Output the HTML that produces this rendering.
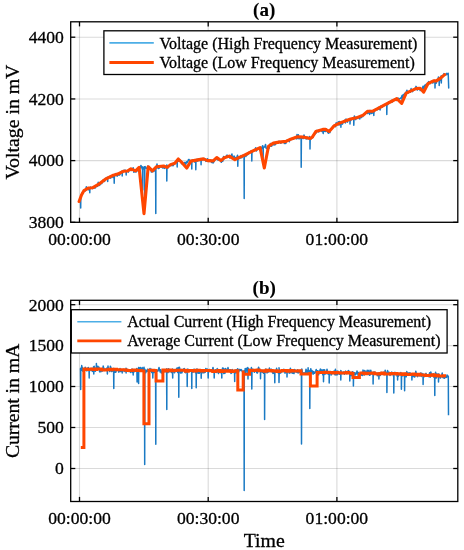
<!DOCTYPE html>
<html><head><meta charset="utf-8"><title>Voltage and Current</title>
<style>
html,body{margin:0;padding:0;background:#fff;width:464px;height:550px;overflow:hidden}
svg{display:block}
text{font-family:"Liberation Serif","Times New Roman",serif;fill:#000;stroke:#000;stroke-width:0.3px}
.tk{font-size:17.6px}
.lg{font-size:16px}
.lb{font-size:19.8px}
.tt{font-size:19px;font-weight:bold;stroke-width:0.1px}
</style></head><body>
<svg width="464" height="550" viewBox="0 0 464 550">
<defs><clipPath id="c1"><rect x="70.7" y="21.8" width="387.1" height="200.5"/></clipPath>
<clipPath id="c2"><rect x="70.7" y="300.3" width="387.1" height="201.2"/></clipPath></defs>
<rect width="464" height="550" fill="#fff"/>
<line x1="79.5" y1="21.8" x2="79.5" y2="222.35" stroke="#262626" stroke-opacity="0.17" stroke-width="1.1"/>
<line x1="208.2" y1="21.8" x2="208.2" y2="222.35" stroke="#262626" stroke-opacity="0.17" stroke-width="1.1"/>
<line x1="336.9" y1="21.8" x2="336.9" y2="222.35" stroke="#262626" stroke-opacity="0.17" stroke-width="1.1"/>
<line x1="70.7" y1="37.2" x2="457.8" y2="37.2" stroke="#262626" stroke-opacity="0.17" stroke-width="1.1"/>
<line x1="70.7" y1="98.95" x2="457.8" y2="98.95" stroke="#262626" stroke-opacity="0.17" stroke-width="1.1"/>
<line x1="70.7" y1="160.6" x2="457.8" y2="160.6" stroke="#262626" stroke-opacity="0.17" stroke-width="1.1"/>
<line x1="70.7" y1="222.35" x2="457.8" y2="222.35" stroke="#262626" stroke-opacity="0.17" stroke-width="1.1"/>
<g clip-path="url(#c1)" fill="none" stroke-linejoin="round" stroke-linecap="round">
<polyline points="79.3,201.0 80.0,200.1 80.5,197.7 80.7,208.0 80.8,197.7 80.7,197.9 81.4,194.5 82.1,193.1 82.8,191.9 83.5,191.8 84.2,189.9 84.9,191.1 85.6,190.5 86.3,186.8 87.0,188.7 87.7,187.8 88.4,189.7 89.1,188.9 89.6,188.0 89.8,192.7 89.9,188.0 89.8,188.2 90.5,187.1 91.2,187.5 91.9,188.2 92.6,188.6 93.3,187.3 94.0,188.2 94.7,187.4 95.4,187.9 96.1,185.7 96.8,184.7 97.5,186.4 98.2,182.3 98.9,185.5 99.6,185.3 100.3,184.2 101.0,183.3 101.7,183.6 102.4,181.9 103.1,180.0 103.8,181.4 104.5,181.4 105.2,179.5 105.9,178.0 106.6,178.1 107.3,177.4 107.5,178.2 107.7,181.5 107.8,178.2 108.0,177.3 108.7,177.8 109.4,176.5 110.1,177.6 110.8,178.1 111.5,176.0 112.2,175.9 112.9,177.5 113.6,174.7 114.1,175.0 114.2,183.3 114.4,175.0 114.3,174.7 115.0,175.7 115.7,173.6 116.4,174.6 117.1,176.3 117.8,174.6 118.5,174.8 119.2,175.2 119.9,174.7 120.6,172.9 121.3,171.6 122.0,171.1 122.1,171.9 122.2,176.0 122.4,171.9 122.7,171.2 123.4,171.4 124.1,170.2 124.8,170.5 125.5,170.2 126.0,171.1 126.2,175.0 126.3,171.1 126.2,172.1 126.9,170.8 127.6,171.0 128.3,172.2 129.0,170.5 129.7,168.9 130.4,169.3 131.1,170.6 131.8,168.4 132.5,170.3 133.2,167.8 133.9,172.3 134.6,171.7 135.3,170.9 136.0,172.0 136.7,171.3 137.4,168.8 138.1,170.6 138.8,169.3 139.5,168.7 140.2,168.0 140.9,165.4 141.6,167.0 142.3,169.2 142.5,167.1 142.7,190.0 142.8,167.1 143.0,169.1 143.7,169.1 144.4,166.7 144.5,167.0 144.7,200.0 144.8,167.0 145.1,166.6 145.8,167.9 146.5,168.5 147.2,167.9 147.9,166.0 148.6,169.0 149.3,169.2 150.0,168.1 150.7,169.3 151.4,172.0 152.1,170.9 152.8,171.8 153.5,169.2 154.2,171.0 154.9,167.9 155.6,169.8 155.6,167.7 155.8,213.6 155.9,167.7 156.3,167.1 157.0,164.1 157.7,167.7 158.4,168.5 159.1,168.2 159.8,166.1 160.5,166.2 161.2,167.1 161.9,166.5 162.6,168.0 163.3,166.5 164.0,168.1 164.7,168.4 165.4,167.4 166.1,166.1 166.7,167.2 166.8,181.1 167.0,167.2 166.8,164.9 167.5,166.6 168.2,167.8 168.9,166.0 169.6,166.2 170.3,164.2 171.0,164.3 171.7,165.7 172.4,164.8 173.1,165.7 173.8,164.5 174.5,163.9 175.2,163.2 175.9,162.4 176.6,162.3 177.0,160.6 177.2,167.0 177.3,160.6 177.3,162.2 178.0,160.2 178.7,161.1 179.4,159.5 180.1,160.0 180.8,160.7 181.5,163.7 182.2,162.4 182.9,164.2 183.6,164.8 184.3,162.5 185.0,162.8 185.7,164.6 186.4,161.7 187.1,162.7 187.8,161.5 188.5,159.6 189.2,159.6 189.9,162.3 190.6,160.4 191.3,162.6 191.6,161.0 191.8,169.1 191.9,161.0 192.0,160.2 192.7,159.9 193.4,160.5 194.1,160.9 194.8,162.1 195.5,159.8 195.7,160.3 195.8,169.7 196.0,160.3 196.2,161.0 196.9,159.3 197.6,161.1 198.3,159.0 199.0,160.7 199.7,158.8 200.4,158.6 200.9,159.3 201.1,164.8 201.2,159.3 201.1,159.8 201.8,160.0 202.5,158.9 203.2,159.6 203.9,158.5 204.6,158.5 205.3,159.7 206.0,161.4 206.7,160.8 207.4,158.7 208.1,159.7 208.8,161.4 209.5,161.2 210.2,160.1 210.9,161.2 211.6,162.5 212.3,161.5 213.0,163.0 213.7,162.1 214.4,160.8 215.1,159.2 215.8,157.8 216.5,159.1 217.2,157.4 217.9,160.1 218.6,160.0 219.3,159.2 220.0,160.4 220.7,160.9 221.4,162.3 222.1,160.4 222.8,161.2 223.5,156.6 224.2,158.5 224.9,157.3 225.6,156.4 226.3,156.4 227.0,155.0 227.7,156.4 228.4,157.1 229.1,157.3 229.8,158.0 230.5,156.3 231.2,155.8 231.9,153.9 232.6,158.3 233.3,157.8 234.0,156.0 234.7,157.2 235.4,158.3 236.1,157.6 236.8,158.0 237.5,155.2 237.7,156.9 237.8,166.2 238.0,156.9 238.2,157.1 238.9,158.7 239.6,158.1 240.3,158.1 241.0,155.6 241.7,157.7 242.4,156.8 243.1,155.0 243.8,155.3 244.0,155.4 244.2,198.6 244.3,155.4 244.5,155.0 245.2,154.5 245.9,156.6 246.6,154.3 247.3,154.9 248.0,154.4 248.7,152.3 249.4,152.5 250.1,152.3 250.8,151.0 251.5,151.5 251.7,151.6 251.8,161.0 252.0,151.6 252.2,152.5 252.9,150.9 253.6,151.1 254.3,149.7 255.0,149.7 255.7,147.7 256.4,151.0 257.1,149.5 257.8,148.4 258.5,148.1 259.2,147.6 259.9,149.8 260.6,149.2 261.3,149.3 262.0,147.1 262.7,145.7 263.0,147.2 263.1,160.0 263.3,147.2 263.4,147.7 264.1,147.0 264.8,147.0 265.5,144.5 266.2,148.4 266.9,148.5 267.6,148.3 268.3,146.5 269.0,148.2 269.7,145.7 270.4,143.4 271.1,146.3 271.8,146.1 272.5,143.5 273.2,142.8 273.9,145.1 274.6,144.5 275.3,144.7 276.0,143.4 276.7,141.7 277.4,142.8 278.1,143.3 278.8,141.3 279.5,141.5 280.2,142.1 280.9,143.3 281.6,141.7 282.3,141.7 283.0,142.0 283.7,141.1 284.4,143.5 285.1,141.2 285.8,143.6 286.5,140.6 287.2,140.1 287.9,139.8 288.6,140.0 289.3,141.7 290.0,139.8 290.7,139.8 291.4,139.0 292.1,138.6 292.8,137.8 293.5,139.2 294.2,137.6 294.9,137.5 295.6,137.8 296.3,138.9 297.0,134.6 297.7,138.6 298.4,134.8 299.1,138.8 299.8,138.6 300.5,136.7 301.1,136.9 301.2,167.2 301.4,136.9 301.2,136.5 301.9,138.2 302.6,138.4 303.3,138.6 304.0,134.9 304.7,137.1 305.4,138.6 306.1,137.1 306.8,138.9 307.5,137.3 308.2,138.8 308.9,138.5 309.6,136.5 309.9,138.4 310.0,149.0 310.2,138.4 310.3,138.9 311.0,139.0 311.7,138.0 312.4,136.7 313.1,137.1 313.8,133.8 314.5,134.7 315.2,132.3 315.9,133.4 316.6,130.4 317.3,131.4 318.0,130.5 318.7,132.0 319.4,130.1 320.1,130.2 320.8,129.7 321.5,131.2 322.2,131.6 322.9,129.0 323.1,129.4 323.2,133.6 323.4,129.4 323.6,129.7 324.3,131.4 325.0,129.7 325.7,131.6 326.4,129.0 327.1,130.6 327.8,132.5 328.5,133.3 329.2,131.4 329.9,132.6 330.6,128.9 331.3,129.2 332.0,128.2 332.7,126.4 333.4,126.7 334.1,125.2 334.8,125.2 335.5,126.8 336.2,122.7 336.9,124.6 337.6,123.7 338.3,121.8 339.0,125.0 339.7,121.4 340.4,124.7 340.8,122.6 340.9,127.3 341.1,122.6 341.1,123.9 341.8,122.4 342.5,124.1 343.2,121.6 343.9,121.5 344.6,120.2 345.3,122.9 346.0,118.9 346.7,121.0 347.4,122.2 348.1,119.7 348.8,120.2 349.5,119.0 349.9,119.3 350.0,123.9 350.2,119.3 350.2,120.5 350.9,120.4 351.6,118.8 352.3,118.8 353.0,117.7 353.7,119.7 353.7,118.3 353.8,125.3 354.0,118.3 354.4,116.0 355.1,118.0 355.8,119.6 356.5,117.5 357.2,116.8 357.9,118.5 358.6,116.7 359.3,117.7 359.7,116.5 359.8,119.0 360.0,116.5 360.0,117.8 360.7,117.3 361.4,117.5 362.1,116.4 362.8,116.6 363.5,114.6 364.2,113.7 364.9,114.4 365.6,113.2 366.3,112.9 367.0,113.2 367.7,113.5 368.4,111.8 369.1,113.0 369.5,111.3 369.6,114.5 369.8,111.3 369.8,110.4 370.5,110.7 371.2,113.4 371.9,113.3 372.6,112.9 373.3,110.6 373.7,110.6 373.8,115.5 374.0,110.6 374.0,112.5 374.7,111.0 375.4,109.4 376.1,108.8 376.8,108.8 377.5,109.7 378.2,107.3 378.9,109.1 379.6,107.6 380.0,107.3 380.1,110.0 380.3,107.3 380.3,108.7 381.0,106.0 381.7,106.7 382.4,107.1 383.1,105.2 383.8,105.6 384.5,104.9 385.2,104.5 385.9,104.3 386.6,105.6 386.7,103.8 386.8,114.5 387.0,103.8 387.3,103.6 388.0,104.4 388.7,101.8 389.4,102.8 390.1,102.3 390.8,102.2 391.5,100.4 392.2,102.1 392.9,99.9 393.6,100.5 394.3,99.4 395.0,100.3 395.7,98.6 396.4,100.5 397.1,98.2 397.8,100.1 398.5,98.2 399.2,99.2 399.9,98.7 400.6,98.1 401.3,97.5 402.0,95.9 402.0,95.6 402.1,102.0 402.3,95.6 402.7,96.8 403.4,94.5 404.1,95.0 404.8,93.3 405.5,94.8 406.2,92.2 406.9,90.3 407.6,91.8 408.3,92.9 409.0,91.7 409.7,92.3 410.4,92.2 411.1,88.6 411.8,91.0 412.5,91.6 413.2,90.3 413.9,90.1 414.6,88.6 415.3,88.2 416.0,86.4 416.7,87.8 417.4,90.0 418.1,87.6 418.8,88.6 419.5,87.8 420.2,90.5 420.9,89.5 421.6,89.6 422.3,89.1 423.0,86.2 423.7,88.2 424.4,85.9 425.0,85.4 425.1,88.0 425.3,85.4 425.1,84.9 425.8,84.8 426.5,84.0 427.2,86.1 427.9,83.5 428.6,81.6 429.3,82.5 430.0,83.8 430.7,81.8 431.4,81.3 432.1,82.6 432.8,83.0 433.5,81.8 434.2,80.2 434.9,81.9 434.9,80.9 435.0,87.9 435.2,80.9 435.6,82.5 436.3,83.1 437.0,80.6 437.7,80.4 438.4,77.1 439.1,78.8 439.1,79.0 439.2,85.5 439.4,79.0 439.8,80.7 440.5,79.2 441.2,75.8 441.2,77.5 441.3,83.0 441.5,77.5 441.9,77.9 442.6,77.0 443.3,75.2 444.0,73.6 444.7,74.7 445.4,74.5 446.1,74.9 446.8,73.4 447.5,74.0 448.2,75.2 448.2,73.2 448.7,87.9" stroke="#1A7AC4" stroke-width="1.5"/>
<polyline points="79.1,201.5 81.5,195.0 84.0,190.6 88.2,188.1 92.4,187.8 98.0,184.7 105.0,179.4 113.4,175.2 117.6,174.1 123.2,171.3 127.4,171.0 130.9,168.9 135.6,170.9 139.1,167.4 144.0,213.6 148.2,166.7 152.4,170.9 156.6,166.7 163.6,166.0 167.1,167.4 170.6,164.6 174.8,163.2 178.3,159.0 182.5,163.2 186.7,168.1 190.9,161.1 195.0,160.4 203.4,158.9 207.6,160.6 213.2,160.9 216.7,157.5 220.9,160.6 224.4,157.8 229.3,156.1 234.9,159.7 239.8,157.1 244.0,155.4 252.4,151.2 260.1,147.7 264.3,168.0 268.5,146.3 273.4,143.1 279.0,142.1 286.0,141.4 290.6,139.2 297.6,136.7 303.2,137.1 310.2,138.5 312.3,137.1 315.8,131.5 322.8,129.4 325.6,129.4 329.1,131.5 334.0,125.9 339.6,123.1 345.2,121.0 350.6,119.0 357.6,117.4 363.2,115.1 367.4,111.3 372.3,111.3 378.6,108.1 385.6,104.3 391.2,101.5 396.8,98.7 401.7,103.4 406.2,93.1 410.4,91.1 416.0,88.6 420.2,88.3 423.7,92.1 427.9,83.7 433.5,80.9 436.3,80.9 440.5,78.1 444.7,74.6" stroke="#FF4600" stroke-width="3.1"/>
</g>
<rect x="70.7" y="21.8" width="387.1" height="200.5" fill="none" stroke="#000" stroke-width="1.3"/>
<line x1="79.5" y1="222.35" x2="79.5" y2="217.75" stroke="#000" stroke-width="1.3"/>
<line x1="79.5" y1="21.8" x2="79.5" y2="26.4" stroke="#000" stroke-width="1.3"/>
<line x1="208.2" y1="222.35" x2="208.2" y2="217.75" stroke="#000" stroke-width="1.3"/>
<line x1="208.2" y1="21.8" x2="208.2" y2="26.4" stroke="#000" stroke-width="1.3"/>
<line x1="336.9" y1="222.35" x2="336.9" y2="217.75" stroke="#000" stroke-width="1.3"/>
<line x1="336.9" y1="21.8" x2="336.9" y2="26.4" stroke="#000" stroke-width="1.3"/>
<line x1="70.7" y1="37.2" x2="75.3" y2="37.2" stroke="#000" stroke-width="1.3"/>
<line x1="457.8" y1="37.2" x2="453.2" y2="37.2" stroke="#000" stroke-width="1.3"/>
<line x1="70.7" y1="98.95" x2="75.3" y2="98.95" stroke="#000" stroke-width="1.3"/>
<line x1="457.8" y1="98.95" x2="453.2" y2="98.95" stroke="#000" stroke-width="1.3"/>
<line x1="70.7" y1="160.6" x2="75.3" y2="160.6" stroke="#000" stroke-width="1.3"/>
<line x1="457.8" y1="160.6" x2="453.2" y2="160.6" stroke="#000" stroke-width="1.3"/>
<line x1="70.7" y1="222.35" x2="75.3" y2="222.35" stroke="#000" stroke-width="1.3"/>
<line x1="457.8" y1="222.35" x2="453.2" y2="222.35" stroke="#000" stroke-width="1.3"/>
<text x="63.9" y="43.0" text-anchor="end" class="tk">4400</text>
<text x="63.9" y="104.8" text-anchor="end" class="tk">4200</text>
<text x="63.9" y="166.4" text-anchor="end" class="tk">4000</text>
<text x="63.9" y="228.2" text-anchor="end" class="tk">3800</text>
<text x="79.5" y="245.3" text-anchor="middle" class="tk">00:00:00</text>
<text x="208.2" y="245.3" text-anchor="middle" class="tk">00:30:00</text>
<text x="336.9" y="245.3" text-anchor="middle" class="tk">01:00:00</text>
<rect x="103.9" y="30.8" width="320.9" height="43.7" fill="#fff" stroke="#000" stroke-width="1.3"/>
<line x1="109.4" y1="42.9" x2="153.8" y2="42.9" stroke="#4DAEE6" stroke-width="1.6"/>
<line x1="109.4" y1="62.5" x2="153.8" y2="62.5" stroke="#FF4600" stroke-width="2.9"/>
<text x="159.6" y="48.5" class="lg">Voltage (High Frequency Measurement)</text>
<text x="159.6" y="68.3" class="lg">Voltage (Low Frequency Measurement)</text>
<text x="264.2" y="16.0" text-anchor="middle" class="tt">(a)</text>
<text transform="translate(19.0,122.1) rotate(-90)" text-anchor="middle" class="lb">Voltage in mV</text>
<line x1="79.5" y1="300.3" x2="79.5" y2="501.5" stroke="#262626" stroke-opacity="0.17" stroke-width="1.1"/>
<line x1="208.2" y1="300.3" x2="208.2" y2="501.5" stroke="#262626" stroke-opacity="0.17" stroke-width="1.1"/>
<line x1="336.9" y1="300.3" x2="336.9" y2="501.5" stroke="#262626" stroke-opacity="0.17" stroke-width="1.1"/>
<line x1="70.7" y1="304.7" x2="457.8" y2="304.7" stroke="#262626" stroke-opacity="0.17" stroke-width="1.1"/>
<line x1="70.7" y1="345.6" x2="457.8" y2="345.6" stroke="#262626" stroke-opacity="0.17" stroke-width="1.1"/>
<line x1="70.7" y1="386.5" x2="457.8" y2="386.5" stroke="#262626" stroke-opacity="0.17" stroke-width="1.1"/>
<line x1="70.7" y1="427.5" x2="457.8" y2="427.5" stroke="#262626" stroke-opacity="0.17" stroke-width="1.1"/>
<line x1="70.7" y1="468.5" x2="457.8" y2="468.5" stroke="#262626" stroke-opacity="0.17" stroke-width="1.1"/>
<g clip-path="url(#c2)" fill="none" stroke-linejoin="round" stroke-linecap="butt">
<polyline points="80.4,369.5 80.5,368.6 80.7,389.5 80.8,368.6 81.0,370.4 81.5,368.7 81.7,365.5 81.8,368.7 81.6,370.2 82.2,367.1 82.8,371.2 83.4,371.1 84.0,369.3 84.6,369.6 85.2,367.3 85.8,368.5 86.4,370.7 87.0,370.8 87.6,370.1 88.2,367.4 88.8,368.3 89.0,369.2 89.2,378.0 89.3,369.2 89.4,371.7 90.0,368.7 90.6,369.8 91.2,368.4 91.8,370.5 92.4,371.4 93.0,369.1 93.6,366.8 93.6,369.3 93.8,374.0 93.9,369.3 94.2,366.3 94.8,369.0 95.4,371.2 96.0,369.0 96.2,369.4 96.4,363.4 96.5,369.4 96.6,365.9 97.2,367.7 97.8,366.2 98.4,369.2 99.0,367.1 99.6,371.8 100.2,371.0 100.8,371.8 101.4,369.2 102.0,371.1 102.6,371.0 103.2,366.1 103.8,368.1 104.4,370.4 105.0,369.2 105.6,370.1 106.2,369.1 106.8,368.1 107.2,369.6 107.4,374.0 107.5,369.6 107.4,370.8 108.0,366.1 108.6,370.1 109.2,368.9 109.8,371.5 110.4,366.2 111.0,368.0 111.6,371.5 112.2,371.1 112.8,370.6 113.4,368.4 113.6,369.7 113.8,388.6 113.9,369.7 114.0,368.5 114.6,369.2 115.2,372.3 115.8,372.2 116.4,370.1 117.0,370.1 117.6,369.7 118.2,369.6 118.8,372.2 119.4,370.2 120.0,368.4 120.6,371.5 121.2,369.6 121.8,371.4 122.0,369.8 122.2,373.0 122.3,369.8 122.4,371.0 123.0,369.7 123.6,369.3 124.2,371.5 124.8,369.4 125.4,371.0 125.9,369.9 126.1,373.0 126.2,369.9 126.0,368.2 126.6,369.2 127.2,370.2 127.8,371.0 128.4,369.7 129.0,371.4 129.6,369.7 130.2,372.0 130.8,372.5 131.4,370.5 132.0,369.0 132.6,372.4 133.0,370.1 133.2,375.0 133.3,370.1 133.2,371.3 133.8,371.5 134.4,371.7 135.0,371.3 135.6,371.1 136.2,371.2 136.8,368.5 136.9,370.2 137.1,382.0 137.2,370.2 137.4,370.3 138.0,369.4 138.4,370.2 138.6,383.6 138.7,370.2 138.6,367.4 139.2,367.9 139.8,369.8 140.4,367.5 141.0,370.1 141.6,371.1 142.2,367.6 142.8,369.7 143.4,369.0 144.0,367.3 144.5,370.3 144.7,464.6 144.8,370.3 144.6,368.9 145.2,370.0 145.8,372.7 146.4,370.4 147.0,371.3 147.6,369.2 148.2,371.0 148.8,372.8 149.4,370.1 150.0,368.5 150.6,371.0 151.2,369.2 151.8,372.5 152.4,370.5 152.7,370.4 152.8,378.0 153.0,370.4 153.0,369.8 153.6,370.2 154.2,372.6 154.8,369.7 155.4,370.8 155.6,370.4 155.8,444.2 155.9,370.4 156.0,370.0 156.6,370.7 157.2,370.7 157.8,371.3 158.4,369.9 159.0,367.5 159.6,369.8 160.2,372.0 160.8,369.8 161.4,373.0 162.0,371.3 162.6,371.5 163.2,371.9 163.8,372.0 164.4,371.0 165.0,370.0 165.6,370.7 166.2,371.9 166.6,370.5 166.8,409.5 166.9,370.5 166.8,368.8 167.4,370.7 168.0,372.6 168.6,368.8 169.2,370.6 169.8,371.8 170.4,370.8 171.0,370.4 171.6,372.5 172.2,370.0 172.5,370.5 172.7,378.0 172.8,370.5 172.8,369.0 173.4,371.8 174.0,370.0 174.6,372.8 175.2,370.9 175.8,370.9 176.4,369.4 177.0,368.1 177.6,372.4 178.2,367.5 178.6,370.6 178.8,397.2 178.9,370.6 178.8,373.1 179.4,367.3 180.0,369.8 180.6,373.0 181.2,369.4 181.8,372.9 182.4,371.5 183.0,369.5 183.6,369.0 184.2,368.5 184.8,371.4 185.4,372.7 186.0,370.8 186.6,371.5 187.1,370.7 187.2,386.4 187.4,370.7 187.2,373.0 187.8,369.1 188.4,369.5 189.0,371.1 189.6,371.3 190.2,370.1 190.8,370.0 191.4,371.2 191.6,370.7 191.8,388.4 191.9,370.7 192.0,370.0 192.6,372.2 193.2,372.1 193.8,369.3 194.4,369.3 195.0,371.6 195.6,372.8 196.1,370.8 196.2,387.7 196.4,370.8 196.2,370.4 196.8,369.1 197.4,369.2 198.0,373.2 198.6,370.0 199.2,373.3 199.8,372.6 200.4,371.8 201.0,370.0 201.1,370.8 201.2,378.2 201.4,370.8 201.6,371.7 202.2,370.7 202.8,372.7 203.4,372.6 204.0,372.8 204.6,371.7 205.2,372.3 205.8,368.5 206.4,369.2 207.0,371.2 207.6,369.1 208.0,370.9 208.2,378.0 208.3,370.9 208.2,373.0 208.8,371.0 209.4,369.5 210.0,369.8 210.6,370.8 211.2,369.8 211.8,370.3 212.4,370.4 213.0,367.5 213.6,370.8 214.1,371.0 214.2,378.0 214.4,371.0 214.2,372.2 214.8,371.2 215.4,369.7 216.0,370.5 216.6,372.4 217.2,368.6 217.8,369.5 218.4,373.5 219.0,370.6 219.6,370.5 220.2,372.4 220.8,370.3 221.4,373.4 221.6,371.0 221.8,378.0 221.9,371.0 222.0,371.1 222.6,367.9 223.2,368.2 223.8,373.6 224.4,368.9 225.0,373.2 225.6,368.6 226.2,369.5 226.8,369.6 227.4,371.1 228.0,367.6 228.6,370.1 229.2,371.1 229.8,369.7 230.4,369.8 231.0,373.4 231.6,373.1 232.2,369.4 232.8,371.5 233.4,371.0 234.0,372.6 234.5,371.2 234.7,381.5 234.8,371.2 234.6,370.7 235.2,373.0 235.8,369.9 236.4,369.8 237.0,373.0 237.6,368.7 238.2,369.7 238.8,371.8 239.4,369.5 240.0,369.4 240.6,370.5 241.2,369.6 241.8,370.5 242.4,371.6 243.0,372.0 243.6,371.6 244.0,370.8 244.2,490.5 244.3,370.8 244.2,372.6 244.8,373.2 245.0,370.8 245.2,368.5 245.3,370.8 245.4,372.0 246.0,372.5 246.6,368.3 247.2,370.0 247.8,367.4 247.8,370.6 248.0,379.0 248.1,370.6 248.4,368.4 249.0,369.3 249.6,372.5 250.2,371.4 250.8,370.6 251.4,367.6 251.7,370.5 251.8,388.9 252.0,370.5 252.0,372.4 252.6,369.2 253.2,369.5 253.8,370.7 254.4,372.3 255.0,370.2 255.6,370.8 256.2,370.7 256.8,372.9 257.4,373.1 258.0,369.3 258.6,367.2 259.2,369.0 259.8,371.0 260.4,370.6 260.4,370.7 260.5,378.7 260.7,370.7 261.0,370.1 261.6,371.3 262.2,372.2 262.8,370.4 263.4,373.2 264.0,372.6 264.5,370.7 264.6,419.5 264.8,370.7 264.6,370.7 265.2,372.6 265.8,369.1 266.4,369.4 267.0,372.9 267.6,372.5 268.2,372.0 268.8,371.7 269.4,368.0 270.0,371.6 270.6,370.7 271.2,369.1 271.8,370.7 272.4,372.1 273.0,373.4 273.6,373.1 274.2,372.0 274.6,370.9 274.8,382.8 274.9,370.9 274.8,372.6 275.4,371.7 276.0,371.4 276.6,368.3 277.2,371.7 277.8,372.3 278.4,373.2 278.9,370.9 279.0,382.5 279.2,370.9 279.0,367.8 279.6,372.1 280.2,373.1 280.8,372.8 281.4,371.8 282.0,371.4 282.6,370.2 283.2,371.6 283.8,369.2 284.4,370.0 285.0,373.2 285.6,371.9 286.2,369.7 286.8,371.7 286.9,371.0 287.0,377.0 287.2,371.0 287.4,370.9 288.0,370.2 288.6,370.4 289.2,373.2 289.8,372.1 290.4,368.2 291.0,372.9 291.6,372.5 292.2,371.2 292.8,373.3 293.4,370.6 294.0,373.6 294.6,369.5 295.2,371.8 295.8,370.2 296.4,372.0 297.0,372.4 297.6,369.7 298.2,373.1 298.8,370.8 299.4,372.3 300.0,370.5 300.6,373.2 301.2,370.0 301.4,371.3 301.5,444.0 301.7,371.3 301.8,369.0 302.4,372.3 303.0,373.0 303.6,373.2 304.2,372.8 304.8,373.9 305.4,374.0 306.0,369.2 306.6,371.5 307.2,372.8 307.8,370.3 308.0,371.7 308.1,367.8 308.3,371.7 308.4,372.3 309.0,370.5 309.6,371.6 309.7,371.8 309.8,408.6 310.0,371.8 310.2,372.2 310.8,368.7 311.4,373.3 312.0,370.6 312.6,371.7 313.2,374.2 313.8,371.5 314.4,373.3 315.0,372.8 315.6,371.8 316.2,369.5 316.8,371.4 317.4,370.7 318.0,370.8 318.6,374.8 319.2,372.1 319.8,370.9 320.4,369.1 321.0,369.8 321.6,372.5 322.2,369.9 322.8,374.8 323.4,372.3 323.5,381.8 323.7,372.3 323.4,369.8 324.0,374.7 324.6,369.7 325.2,374.0 325.8,373.2 326.4,373.4 327.0,369.2 327.6,372.4 328.2,374.2 328.8,372.3 329.1,372.4 329.2,383.0 329.4,372.4 329.4,373.9 330.0,371.3 330.6,372.5 331.2,375.0 331.8,372.5 332.4,372.7 333.0,373.6 333.6,371.4 334.2,371.0 334.8,374.7 335.4,369.3 336.0,375.0 336.6,371.3 337.2,374.8 337.8,370.9 338.4,372.7 339.0,374.1 339.6,374.2 340.2,373.1 340.7,372.6 340.8,380.0 341.0,372.6 340.8,370.4 341.4,373.7 342.0,372.5 342.6,373.5 343.2,372.0 343.8,372.1 344.4,374.2 345.0,373.1 345.6,371.1 346.2,372.9 346.8,373.8 347.4,371.4 348.0,371.3 348.6,370.5 349.2,373.2 349.7,373.0 349.8,380.9 350.0,373.0 349.8,375.3 350.4,373.6 351.0,375.4 351.6,375.7 352.2,372.1 352.8,371.7 353.3,373.2 353.4,386.0 353.6,373.2 353.4,374.6 354.0,373.1 354.6,372.7 355.2,375.1 355.8,372.9 356.4,373.9 357.0,371.0 357.6,372.9 358.2,375.7 358.8,372.6 359.4,374.7 360.0,375.1 360.6,373.1 361.2,372.5 361.8,375.3 362.4,375.4 363.0,370.1 363.6,371.1 364.2,375.1 364.8,370.4 365.4,372.0 366.0,374.2 366.6,372.5 367.2,370.3 367.8,370.6 368.4,374.4 369.0,370.3 369.6,375.3 370.2,374.9 370.8,370.2 371.4,373.8 372.0,373.6 372.6,372.5 373.0,373.4 373.1,384.1 373.3,373.4 373.2,375.8 373.8,372.0 374.4,372.0 375.0,374.4 375.6,372.4 376.2,373.8 376.8,373.6 377.4,375.7 378.0,372.8 378.6,374.0 378.8,373.5 378.9,379.0 379.1,373.5 379.2,374.1 379.8,373.5 380.4,375.4 381.0,372.2 381.6,373.3 382.2,372.9 382.8,374.6 383.4,372.3 384.0,373.3 384.6,374.6 385.2,370.2 385.8,373.5 386.4,375.0 386.8,373.7 386.9,392.5 387.1,373.7 387.0,373.7 387.6,370.6 388.2,373.7 388.8,372.2 389.4,372.7 390.0,375.4 390.6,374.2 391.2,373.8 391.8,372.1 392.4,373.3 393.0,374.3 393.6,376.2 393.7,373.8 393.8,393.1 394.0,373.8 394.2,372.5 394.8,372.6 395.4,372.5 396.0,374.5 396.6,373.3 397.2,376.4 397.5,373.9 397.6,380.0 397.8,373.9 397.8,373.1 398.4,376.2 399.0,375.0 399.6,373.6 400.2,374.5 400.8,372.5 401.3,374.1 401.4,389.3 401.6,374.1 401.4,374.3 402.0,376.3 402.6,374.5 403.2,375.6 403.8,374.4 404.4,375.0 404.5,374.2 404.6,390.7 404.8,374.2 405.0,373.3 405.6,375.6 406.2,376.8 406.8,371.5 407.4,375.2 408.0,373.2 408.6,373.0 409.2,373.7 409.8,372.8 410.4,373.2 411.0,374.1 411.6,375.5 411.8,374.5 411.9,380.0 412.1,374.5 412.2,376.5 412.8,374.0 413.4,376.6 414.0,374.6 414.6,377.1 415.2,375.7 415.8,371.2 416.4,374.2 417.0,375.8 417.6,376.6 418.2,374.4 418.8,375.2 419.4,375.7 420.0,373.7 420.6,373.0 421.2,376.4 421.8,373.3 422.4,375.2 423.0,374.9 423.1,384.4 423.3,374.9 423.0,374.0 423.6,376.9 424.2,376.8 424.8,374.9 425.4,374.3 426.0,373.3 426.6,375.9 427.2,375.5 427.8,374.7 428.4,375.0 429.0,376.7 429.6,372.8 430.2,377.2 430.8,372.1 431.4,374.0 432.0,375.5 432.6,375.7 433.2,373.7 433.8,377.0 434.4,377.3 434.6,375.5 434.8,395.6 434.9,375.5 435.0,376.8 435.6,372.2 436.2,378.1 436.8,374.1 437.4,374.2 438.0,374.2 438.4,375.6 438.5,382.0 438.7,375.6 438.6,373.9 439.2,375.2 439.8,375.6 440.4,378.1 441.0,377.0 441.6,375.8 442.2,373.1 442.8,377.4 443.4,377.9 444.0,377.5 444.6,378.2 445.2,376.0 445.8,377.1 446.4,377.4 447.0,375.1 447.6,375.4 448.2,377.8 448.3,376.2 448.5,415.2" stroke="#1A7AC4" stroke-width="1.5"/>
<polyline points="80.8,447.6 83.9,447.6 83.9,368.9 86.4,368.9 86.4,369.6 88.7,369.6 88.7,369.2 91.3,369.2 91.3,368.9 93.7,368.9 93.7,369.5 96.6,369.5 96.6,368.9 98.7,368.9 98.7,369.0 101.5,369.0 101.5,369.7 103.2,369.7 103.2,370.0 106.4,370.0 106.4,369.7 108.9,369.7 108.9,369.2 110.6,369.2 110.6,369.7 112.3,369.7 112.3,369.3 114.3,369.3 114.3,369.2 116.6,369.2 116.6,369.7 119.5,369.7 119.5,369.8 122.2,369.8 122.2,369.8 124.8,369.8 124.8,369.9 126.9,369.9 126.9,370.5 130.1,370.5 130.1,370.4 132.8,370.4 132.8,369.9 134.8,369.9 134.8,369.9 136.5,369.9 136.5,370.5 138.7,370.5 138.7,370.6 140.9,370.6 140.9,370.8 143.9,370.8 143.9,369.8 143.9,369.8 143.9,369.8 143.9,423.8 149.0,423.8 149.0,370.7 149.0,370.3 152.2,370.3 152.2,370.2 153.9,370.2 153.9,370.5 156.1,370.5 156.1,370.5 156.1,380.9 162.9,380.9 162.9,370.2 162.9,370.0 165.0,370.0 165.0,371.0 167.8,371.0 167.8,370.1 169.8,370.1 169.8,370.1 171.5,370.1 171.5,370.8 173.4,370.8 173.4,370.6 175.7,370.6 175.7,370.2 178.5,370.2 178.5,370.2 181.1,370.2 181.1,370.2 183.4,370.2 183.4,370.3 185.4,370.3 185.4,371.2 188.3,371.2 188.3,370.5 191.3,370.5 191.3,370.4 193.6,370.4 193.6,371.1 196.2,371.1 196.2,370.3 199.4,370.3 199.4,370.5 201.4,370.5 201.4,371.1 203.5,371.1 203.5,370.6 205.2,370.6 205.2,370.4 207.8,370.4 207.8,370.6 210.3,370.6 210.3,370.8 212.7,370.8 212.7,371.4 215.0,371.4 215.0,371.0 218.0,371.0 218.0,370.6 219.9,370.6 219.9,371.5 222.8,371.5 222.8,370.8 224.7,370.8 224.7,371.3 227.8,371.3 227.8,370.8 230.9,370.8 230.9,371.6 233.5,371.6 233.5,371.1 235.2,371.1 235.2,370.7 237.8,370.7 237.8,370.7 237.8,389.9 243.2,389.9 243.2,370.6 243.2,370.6 243.2,374.2 249.5,374.2 249.5,370.7 249.5,370.3 252.4,370.3 252.4,370.6 254.5,370.6 254.5,370.2 257.2,370.2 257.2,370.1 259.2,370.1 259.2,370.7 262.2,370.7 262.2,370.8 264.2,370.8 264.2,371.2 266.1,371.2 266.1,370.2 268.2,370.2 268.2,370.7 269.9,370.7 269.9,370.4 272.1,370.4 272.1,370.9 273.9,370.9 273.9,370.7 276.9,370.7 276.9,371.4 279.5,371.4 279.5,371.1 282.1,371.1 282.1,370.6 283.7,370.6 283.7,370.5 286.8,370.5 286.8,371.3 289.9,371.3 289.9,370.5 292.6,370.5 292.6,371.1 295.3,371.1 295.3,371.0 298.5,371.0 298.5,370.7 301.0,370.7 301.0,373.9 304.0,373.9 304.0,373.9 306.8,373.9 306.8,373.9 309.8,373.9 309.8,373.4 310.4,373.4 310.4,373.4 310.4,386.0 317.1,386.0 317.1,372.6 317.1,372.6 319.4,372.6 319.4,372.6 322.3,372.6 322.3,372.4 324.9,372.4 324.9,372.2 327.5,372.2 327.5,372.5 329.2,372.5 329.2,372.6 332.4,372.6 332.4,372.9 335.2,372.9 335.2,372.4 337.9,372.4 337.9,372.7 340.2,372.7 340.2,373.0 342.0,373.0 342.0,373.0 343.6,373.0 343.6,372.9 346.0,372.9 346.0,372.6 348.7,372.6 348.7,373.0 351.3,373.0 351.3,373.6 353.0,373.6 353.0,373.6 353.0,377.4 359.4,377.4 359.4,372.7 359.4,373.0 362.1,373.0 362.1,372.9 364.0,372.9 364.0,373.7 366.6,373.7 366.6,373.2 369.6,373.2 369.6,373.2 372.3,373.2 372.3,373.1 374.6,373.1 374.6,373.8 377.7,373.8 377.7,373.9 379.9,373.9 379.9,373.6 382.0,373.6 382.0,373.1 384.4,373.1 384.4,374.0 387.3,374.0 387.3,373.9 390.5,373.9 390.5,373.5 392.3,373.5 392.3,373.8 394.4,373.8 394.4,373.5 396.6,373.5 396.6,374.1 399.0,374.1 399.0,373.8 402.0,373.8 402.0,374.6 404.3,374.6 404.3,373.7 405.9,373.7 405.9,374.6 407.6,374.6 407.6,374.5 410.1,374.5 410.1,374.2 413.0,374.2 413.0,374.0 414.8,374.0 414.8,374.5 416.4,374.5 416.4,375.0 418.4,375.0 418.4,374.3 420.1,374.3 420.1,374.9 422.4,374.9 422.4,375.1 425.1,375.1 425.1,375.4 428.2,375.4 428.2,375.4 430.1,375.4 430.1,375.2 432.0,375.2 432.0,374.8 434.3,374.8 434.3,375.7 436.2,375.7 436.2,375.3 438.4,375.3 438.4,375.9 440.8,375.9 440.8,375.9 443.6,375.9 443.6,375.8 446.1,375.8" stroke="#FF4600" stroke-width="3.0" stroke-linejoin="miter"/>
</g>
<rect x="70.7" y="300.3" width="387.1" height="201.2" fill="none" stroke="#000" stroke-width="1.3"/>
<line x1="79.5" y1="501.5" x2="79.5" y2="496.9" stroke="#000" stroke-width="1.3"/>
<line x1="79.5" y1="300.3" x2="79.5" y2="304.90000000000003" stroke="#000" stroke-width="1.3"/>
<line x1="208.2" y1="501.5" x2="208.2" y2="496.9" stroke="#000" stroke-width="1.3"/>
<line x1="208.2" y1="300.3" x2="208.2" y2="304.90000000000003" stroke="#000" stroke-width="1.3"/>
<line x1="336.9" y1="501.5" x2="336.9" y2="496.9" stroke="#000" stroke-width="1.3"/>
<line x1="336.9" y1="300.3" x2="336.9" y2="304.90000000000003" stroke="#000" stroke-width="1.3"/>
<line x1="70.7" y1="304.7" x2="75.3" y2="304.7" stroke="#000" stroke-width="1.3"/>
<line x1="457.8" y1="304.7" x2="453.2" y2="304.7" stroke="#000" stroke-width="1.3"/>
<line x1="70.7" y1="345.6" x2="75.3" y2="345.6" stroke="#000" stroke-width="1.3"/>
<line x1="457.8" y1="345.6" x2="453.2" y2="345.6" stroke="#000" stroke-width="1.3"/>
<line x1="70.7" y1="386.5" x2="75.3" y2="386.5" stroke="#000" stroke-width="1.3"/>
<line x1="457.8" y1="386.5" x2="453.2" y2="386.5" stroke="#000" stroke-width="1.3"/>
<line x1="70.7" y1="427.5" x2="75.3" y2="427.5" stroke="#000" stroke-width="1.3"/>
<line x1="457.8" y1="427.5" x2="453.2" y2="427.5" stroke="#000" stroke-width="1.3"/>
<line x1="70.7" y1="468.5" x2="75.3" y2="468.5" stroke="#000" stroke-width="1.3"/>
<line x1="457.8" y1="468.5" x2="453.2" y2="468.5" stroke="#000" stroke-width="1.3"/>
<text x="63.9" y="310.5" text-anchor="end" class="tk">2000</text>
<text x="63.9" y="351.4" text-anchor="end" class="tk">1500</text>
<text x="63.9" y="392.3" text-anchor="end" class="tk">1000</text>
<text x="63.9" y="433.3" text-anchor="end" class="tk">500</text>
<text x="63.9" y="474.3" text-anchor="end" class="tk">0</text>
<text x="79.5" y="523.8" text-anchor="middle" class="tk">00:00:00</text>
<text x="208.2" y="523.8" text-anchor="middle" class="tk">00:30:00</text>
<text x="336.9" y="523.8" text-anchor="middle" class="tk">01:00:00</text>
<rect x="71.3" y="309.7" width="375.8" height="43.3" fill="#fff" stroke="#000" stroke-width="1.3"/>
<line x1="77.3" y1="321.7" x2="121.4" y2="321.7" stroke="#4DAEE6" stroke-width="1.6"/>
<line x1="77.3" y1="340.9" x2="121.4" y2="340.9" stroke="#FF4600" stroke-width="2.9"/>
<text x="127.2" y="326.9" class="lg" textLength="303.8" lengthAdjust="spacing">Actual Current (High Frequency Measurement)</text>
<text x="127.2" y="345.9" class="lg" textLength="313.3" lengthAdjust="spacing">Average Current (Low Frequency Measurement)</text>
<text x="264.2" y="294.2" text-anchor="middle" class="tt">(b)</text>
<text transform="translate(19.0,400.9) rotate(-90)" text-anchor="middle" class="lb" textLength="114.3" lengthAdjust="spacing">Current in mA</text>
<text x="264.2" y="547.0" text-anchor="middle" class="lb">Time</text>
</svg>
</body></html>
